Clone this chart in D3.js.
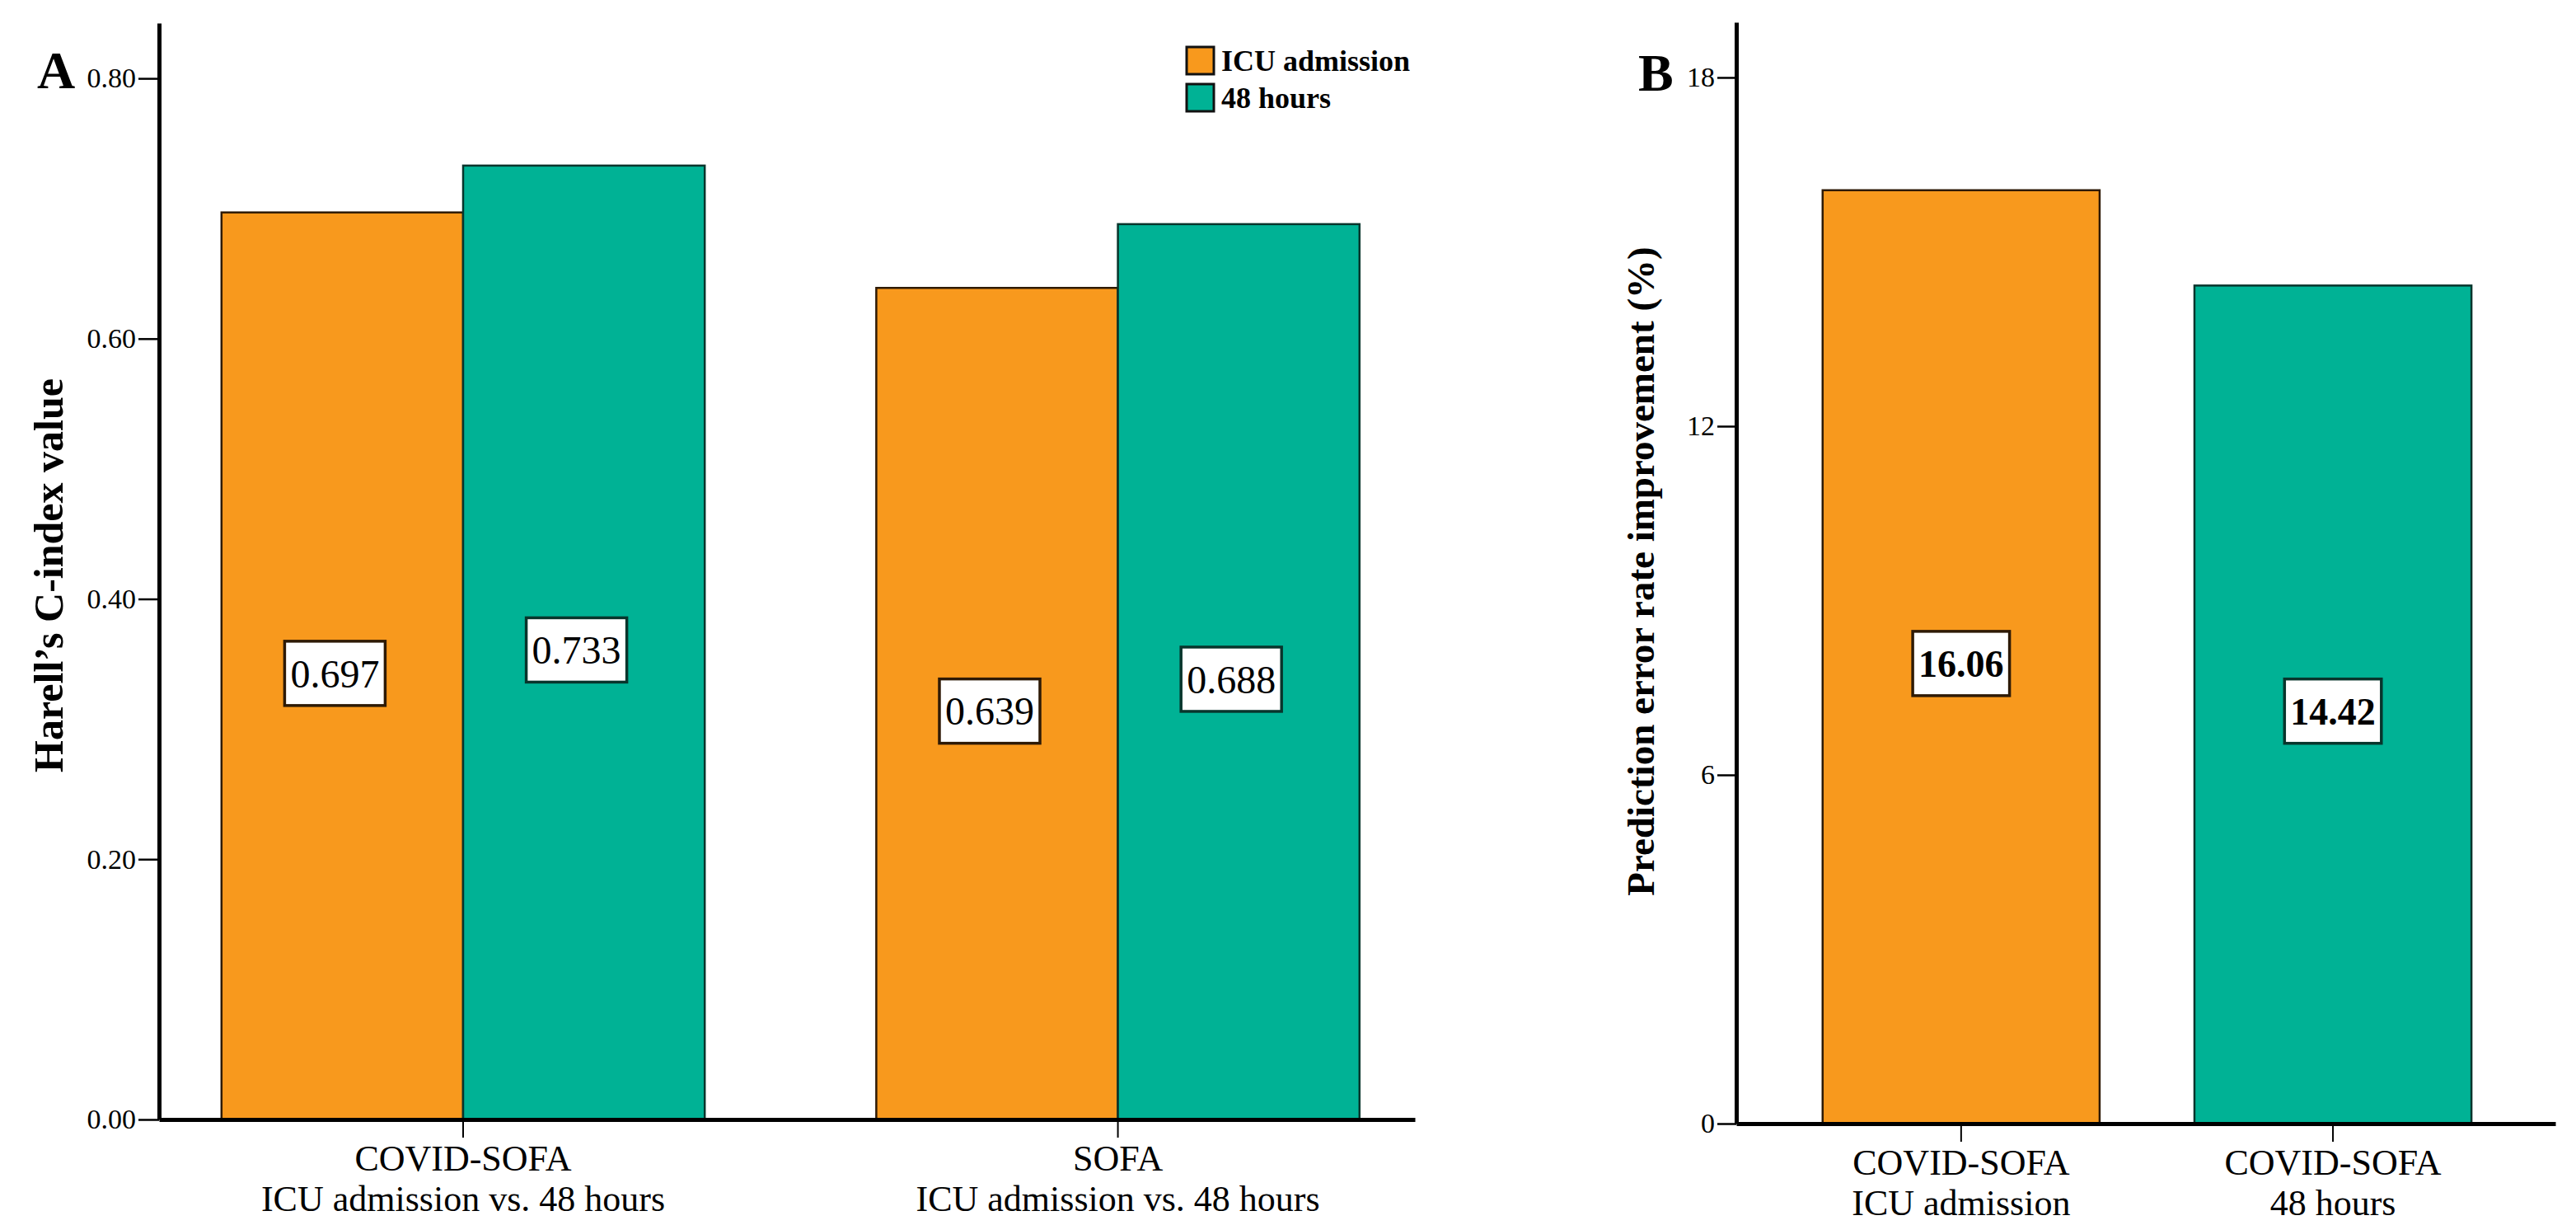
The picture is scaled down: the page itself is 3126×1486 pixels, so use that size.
<!DOCTYPE html>
<html>
<head>
<meta charset="utf-8">
<script src="https://cdn.jsdelivr.net/npm/d3@7"></script>
<style>
body { margin: 0; background: #fff; }
text { font-family: "Liberation Serif", "Times New Roman", serif; fill: #000; }
</style>
</head>
<body>
<svg id="chart" width="3126" height="1486"></svg>
<script>
// panel A : Harell's C-index
var groupsA = ["COVID-SOFA", "SOFA"];
var groupSubA = "ICU admission vs. 48 hours";
var seriesNames = ["ICU admission", "48 hours"];
var icuA = [0.697, 0.639];
var h48A = [0.733, 0.688];
var ticksA = [0, 0.2, 0.4, 0.6, 0.8];

// panel B : prediction error rate improvement
var barsB = ["COVID-SOFA", "COVID-SOFA"];
var barSubB = ["ICU admission", "48 hours"];
var valuesB = [16.06, 14.42];
var ticksB = [0, 6, 12, 18];

var colors = ["#f8991d", "#00b295"];
var edges = ["#2e1a06", "#08352c"];

var svg = d3.select("#chart");

// helper: white box with value in the middle of the bar
function valueLabel(g, x, y, txt, edge, weight, size) {
    var lab = g.append("g").attr("transform", "translate(" + x + "," + y + ")");
    var rect = lab.append("rect");
    var t = lab.append("text")
        .attr("text-anchor", "middle")
        .attr("dy", "0.35em")
        .attr("font-size", size)
        .attr("font-weight", weight)
        .text(txt);
    var bb = t.node().getBBox();
    rect.attr("x", bb.x - 7)
        .attr("y", -39)
        .attr("width", bb.width + 14)
        .attr("height", 78)
        .attr("fill", "#fff")
        .attr("stroke", edge)
        .attr("stroke-width", 3.5);
}

function styleAxis(g, dw, tw) {
    g.select(".domain").attr("stroke", "#000").attr("stroke-width", dw);
    g.selectAll(".tick line").attr("stroke", "#000").attr("stroke-width", tw);
}

// two line category labels under the x axis
function xLabels(g, first, second) {
    g.selectAll(".tick text").remove();
    g.selectAll(".tick").each(function(d, i) {
        var t = d3.select(this).append("text")
            .attr("text-anchor", "middle")
            .attr("font-size", 44);
        t.append("tspan").attr("x", 0).attr("y", 62).text(first[i]);
        t.append("tspan").attr("x", 0).attr("y", 111).text(second[i]);
    });
}

// Panel A
//---------------------------------------------------------------------------
var xA = d3.scaleBand()
    .domain(groupsA)
    .range([193, 1717])
    .paddingInner(0.262)
    .paddingOuter(0.09)
    .align(0.53);
var xSubA = d3.scaleBand()
    .domain(seriesNames)
    .range([0, xA.bandwidth()]);
var yA = d3.scaleLinear()
    .domain([0, 0.8425])
    .range([1358, 28]);

var gA = svg.append("g");

var dataA = groupsA.map(function(g, i) {
    return { group: g, vals: [icuA[i], h48A[i]] };
});

var grpA = gA.selectAll(".grp")
    .data(dataA).enter()
    .append("g")
    .attr("class", "grp")
    .attr("transform", function(d) { return "translate(" + xA(d.group) + ",0)"; });

grpA.selectAll("rect")
    .data(function(d) { return d.vals; }).enter()
    .append("rect")
    .attr("x", function(d, i) { return xSubA(seriesNames[i]); })
    .attr("y", function(d) { return yA(d); })
    .attr("width", xSubA.bandwidth())
    .attr("height", function(d) { return yA(0) - yA(d); })
    .attr("fill", function(d, i) { return colors[i]; })
    .attr("stroke", function(d, i) { return edges[i]; })
    .attr("stroke-width", 2.5);

grpA.each(function(d) {
    var g = d3.select(this);
    d.vals.forEach(function(v, i) {
        var cx = xSubA(seriesNames[i]) + xSubA.bandwidth() / 2 - 9;
        var cy = (yA(v) + yA(0)) / 2 + 9;
        valueLabel(g, cx, cy, d3.format(".3f")(v), edges[i], "normal", 48);
    });
});

var axYA = gA.append("g")
    .attr("transform", "translate(193,0)")
    .call(d3.axisLeft(yA).tickValues(ticksA).tickFormat(d3.format(".2f"))
        .tickSize(25).tickSizeOuter(0).tickPadding(3));
axYA.selectAll(".tick text").attr("font-size", 34);
styleAxis(axYA, 5, 2.5);

var axXA = gA.append("g")
    .attr("transform", "translate(0,1358)")
    .call(d3.axisBottom(xA).tickSize(22).tickSizeOuter(0));
xLabels(axXA, groupsA, [groupSubA, groupSubA]);
styleAxis(axXA, 5, 2);

gA.append("text")
    .attr("transform", "translate(76,698) rotate(-90)")
    .attr("text-anchor", "middle")
    .attr("font-size", 50)
    .attr("font-weight", "bold")
    .text("Harell\u2019s C-index value");

gA.append("text")
    .attr("x", 45).attr("y", 107)
    .attr("font-size", 64)
    .attr("font-weight", "bold")
    .text("A");

// legend
var leg = gA.selectAll(".leg")
    .data(seriesNames).enter()
    .append("g")
    .attr("class", "leg")
    .attr("transform", function(d, i) { return "translate(1440," + (57 + i * 45) + ")"; });
leg.append("rect")
    .attr("width", 33).attr("height", 33)
    .attr("fill", function(d, i) { return colors[i]; })
    .attr("stroke", "#111")
    .attr("stroke-width", 3);
leg.append("text")
    .attr("x", 42).attr("y", 29)
    .attr("font-size", 36)
    .attr("font-weight", "bold")
    .text(function(d) { return d; });

// Panel B
//---------------------------------------------------------------------------
var keysB = barSubB;
var xB = d3.scaleBand()
    .domain(keysB)
    .range([2107, 3101])
    .paddingInner(0.255)
    .paddingOuter(0.229)
    .align(0.507);
var yB = d3.scaleLinear()
    .domain([0, 18.95])
    .range([1363, 27]);

var gB = svg.append("g");

gB.selectAll("rect")
    .data(valuesB).enter()
    .append("rect")
    .attr("x", function(d, i) { return xB(keysB[i]); })
    .attr("y", function(d) { return yB(d); })
    .attr("width", xB.bandwidth())
    .attr("height", function(d) { return yB(0) - yB(d); })
    .attr("fill", function(d, i) { return colors[i]; })
    .attr("stroke", function(d, i) { return edges[i]; })
    .attr("stroke-width", 2.5);

valuesB.forEach(function(v, i) {
    var cx = xB(keysB[i]) + xB.bandwidth() / 2;
    var cy = (yB(v) + yB(0)) / 2 + 8;
    valueLabel(gB, cx, cy, d3.format(".2f")(v), edges[i], "bold", 46);
});

var axYB = gB.append("g")
    .attr("transform", "translate(2107,0)")
    .call(d3.axisLeft(yB).tickValues(ticksB)
        .tickSize(23).tickSizeOuter(0).tickPadding(3));
axYB.selectAll(".tick text").attr("font-size", 34);
styleAxis(axYB, 5, 2.5);

var axXB = gB.append("g")
    .attr("transform", "translate(0,1363)")
    .call(d3.axisBottom(xB).tickSize(22).tickSizeOuter(0));
xLabels(axXB, barsB, barSubB);
styleAxis(axXB, 5, 2);

gB.append("text")
    .attr("transform", "translate(2007,693) rotate(-90)")
    .attr("text-anchor", "middle")
    .attr("font-size", 47)
    .attr("font-weight", "bold")
    .text("Prediction error rate improvement (%)");

gB.append("text")
    .attr("x", 1988).attr("y", 110)
    .attr("font-size", 64)
    .attr("font-weight", "bold")
    .text("B");
</script>
</body>
</html>
